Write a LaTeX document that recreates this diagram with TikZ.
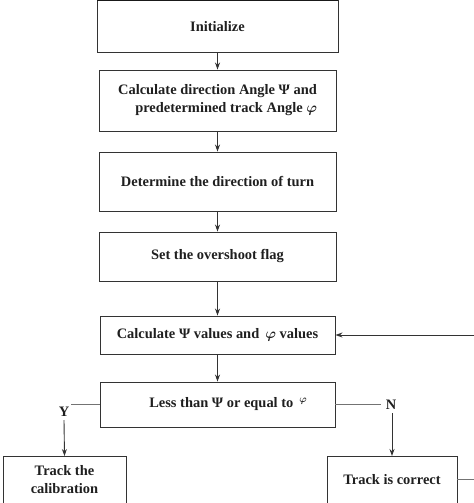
\documentclass[tikz,border=0pt]{standalone}
\usepackage{fontspec}
\setmainfont{Liberation Serif}
\usetikzlibrary{arrows.meta}
\begin{document}
\begin{tikzpicture}[x=1bp,y=-1bp,
  box/.style={draw=black!80, line width=0.9bp, inner sep=0pt, font=\bfseries\boldmath\fontsize{14.5}{18}\selectfont, text=black!88, align=center},
  lbl/.style={inner sep=0pt, font=\bfseries\boldmath\fontsize{14.5}{18}\selectfont, text=black!88, align=center},
  arr/.style={draw=black!80, line width=0.9bp, -{Stealth[length=7bp,width=5bp]}},
  branch/.style={draw=black!55, line width=0.9bp}
]
\useasboundingbox (0,0) rectangle (474,503);
\clip (0,0) rectangle (474,503);
\node[box, minimum width=241bp, minimum height=52bp] (init) at (217.5,26.5) {Initialize};
\draw[black!90, line width=2bp] (init.north west) -- (init.north east);
\node[box, minimum width=237bp, minimum height=61bp] (calc) at (217.5,100.5) {Calculate direction Angle Ψ and\\ \hspace*{1.2em}predetermined track Angle $\varphi$};
\node[box, minimum width=237bp, minimum height=59bp] (det) at (217.5,181.5) {Determine the direction of turn};
\node[box, minimum width=237bp, minimum height=49bp] (set) at (217.5,256.5) {Set the overshoot flag};
\node[box, minimum width=235bp, minimum height=38bp] (calcv) at (217.5,335) {Calculate Ψ values and \,$\varphi$ values};
\node[box, minimum width=235bp, minimum height=45bp] (less) at (217.5,404.5) {\hspace*{1.5em}Less than Ψ or equal to \,$^{\varphi}$};
\node[box, minimum width=123bp, minimum height=70bp, anchor=north] (tc) at (64.5,456) {};
\node[lbl] (tctext) at (64.5,480) {Track the\\calibration};
\node[box, minimum width=130bp, minimum height=70bp, anchor=north] (tk) at (392,456) {};
\node[lbl] (tktext) at (392,480) {Track is correct};
\node[lbl] (Y) at (64,412) {Y};
\node[lbl] (N) at (391,405) {N};
\coordinate (yend) at (71,404.5);
\coordinate (nend) at (381,404.5);
\coordinate (ystart) at (64,420);
\coordinate (nstart) at (392,413);
\coordinate (rin) at (474,335);
\coordinate (rout) at (474,479);
\draw[arr] (init) -- (calc);
\draw[arr] (calc) -- (det);
\draw[arr] (det) -- (set);
\draw[arr] (set) -- (calcv);
\draw[arr] (calcv) -- (less);
\draw[arr] (rin) -- (calcv.east);
\draw[branch] (less.west) -- (yend);
\draw[branch] (less.east) -- (nend);
\draw[arr] (ystart) -- (tc.north);
\draw[arr] (nstart) -- (tk.north);
\draw[branch] (tk.east |- rout) -- (rout);
\end{tikzpicture}
\end{document}
